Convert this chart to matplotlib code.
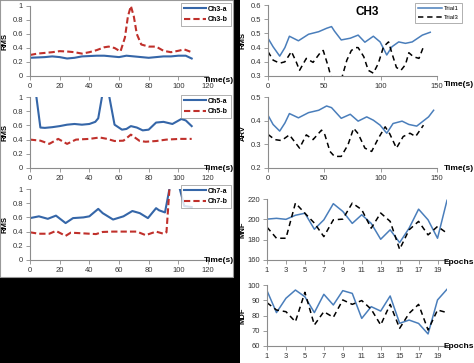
import matplotlib.pyplot as plt
from matplotlib.patches import Rectangle

W, H = 474, 363

# left column: RMS of channels 3, 5, 7 over time
ch3_a_t = [0, 5, 10, 15, 20, 25, 30, 35, 40, 45, 50, 55, 60, 65, 70, 75, 80, 85, 90, 95, 100, 105, 109]
ch3_a = [0.26, 0.265, 0.27, 0.28, 0.27, 0.25, 0.26, 0.28, 0.285, 0.29, 0.29, 0.28, 0.27, 0.29, 0.28,
         0.27, 0.26, 0.27, 0.28, 0.28, 0.29, 0.29, 0.25]
ch3_b_t = [0, 5, 10, 15, 20, 25, 30, 35, 40, 45, 50, 53, 57, 61, 64, 66, 68, 70, 72, 75, 80, 85, 90,
           95, 100, 104, 109]
ch3_b = [0.30, 0.32, 0.33, 0.34, 0.355, 0.35, 0.34, 0.32, 0.34, 0.37, 0.41, 0.42, 0.40, 0.35, 0.55,
         0.85, 1.0, 0.85, 0.6, 0.45, 0.42, 0.42, 0.36, 0.34, 0.36, 0.38, 0.34]

ch5_a_t = [0, 4, 7, 10, 15, 20, 25, 30, 35, 40, 44, 46, 48.5, 51, 53.5, 57, 62, 65, 68, 72, 76, 80,
           85, 90, 96, 102, 105, 109]
ch5_a = [1.5, 1.05, 0.57, 0.565, 0.575, 0.59, 0.61, 0.62, 0.61, 0.62, 0.65, 0.70, 1.0, 1.4, 1.0, 0.61,
         0.54, 0.55, 0.59, 0.57, 0.53, 0.54, 0.64, 0.65, 0.62, 0.69, 0.67, 0.59]
ch5_b_t = [0, 7, 13, 19, 25, 31, 40, 47, 52, 57, 63, 68, 74, 78, 85, 92, 101, 109]
ch5_b = [0.40, 0.385, 0.34, 0.41, 0.34, 0.40, 0.41, 0.43, 0.41, 0.38, 0.385, 0.47, 0.38, 0.37, 0.38,
         0.40, 0.41, 0.41]

ch7_a_t = [0, 6, 12, 17.5, 24, 29, 36, 40, 46, 49, 56, 63, 69, 74, 79.5, 85, 87, 91, 94, 97.5, 101,
           104, 109]
ch7_a = [0.59, 0.615, 0.58, 0.625, 0.52, 0.59, 0.60, 0.615, 0.72, 0.66, 0.57, 0.615, 0.69, 0.66, 0.59,
         0.73, 0.70, 0.67, 1.0, 1.4, 1.0, 0.76, 0.745]
ch7_b_t = [0, 6, 13, 17.5, 24, 27.5, 36, 44.5, 49, 56, 65, 72, 78, 85, 90, 92, 94, 96]
ch7_b = [0.39, 0.37, 0.37, 0.41, 0.34, 0.385, 0.375, 0.365, 0.395, 0.40, 0.40, 0.40, 0.35, 0.40, 0.37,
         0.39, 1.0, 1.4]

# right column: CH3 features, trial 1 vs trial 3
rms1_t = [0, 4.5, 10.4, 15, 19, 27, 36, 45, 52, 56.4, 59, 65, 73, 80, 86, 93.5, 99.5, 105.4, 110, 116,
          122, 128, 137, 144]
rms1 = [0.433, 0.403, 0.37, 0.40, 0.44, 0.424, 0.447, 0.456, 0.468, 0.474, 0.458, 0.427, 0.433, 0.444,
        0.419, 0.44, 0.42, 0.374, 0.403, 0.42, 0.415, 0.42, 0.444, 0.454]
rms3_t = [0, 4.5, 10.4, 15, 20.8, 25, 28, 34, 40, 46, 49, 53.5, 57, 63, 66, 70, 74, 78, 80, 85, 89,
          93.5, 98, 102.5, 107, 110, 114, 118, 122, 125, 129, 134, 138]
rms3 = [0.386, 0.356, 0.345, 0.35, 0.386, 0.35, 0.32, 0.362, 0.348, 0.38, 0.39, 0.333, 0.28, 0.27,
        0.30, 0.356, 0.39, 0.40, 0.40, 0.368, 0.32, 0.31, 0.345, 0.403, 0.42, 0.38, 0.33, 0.32, 0.34,
        0.382, 0.368, 0.362, 0.403]
rms_ticks = [0.30, 0.35, 0.40, 0.45, 0.50, 0.55]
rms_ticklabels = ['0.3', '0.4', '0.4', '0.5', '0.5', '0.6']

arv1_t = [0, 4.5, 10.4, 15, 19, 27, 36, 45, 52, 56.4, 65, 73, 80, 87.6, 93.5, 99.5, 105.4, 111, 119,
          125, 132, 142.5, 147]
arv1 = [0.423, 0.384, 0.356, 0.39, 0.43, 0.412, 0.434, 0.444, 0.462, 0.455, 0.41, 0.427, 0.398, 0.416,
        0.402, 0.381, 0.347, 0.388, 0.398, 0.384, 0.377, 0.416, 0.444]
arv3_t = [0, 6, 12, 19, 23.8, 28, 34, 40, 47.5, 50.5, 55, 59, 65, 71, 76, 80, 86, 92, 98, 104, 108,
          114, 120, 126, 131, 138]
arv3 = [0.342, 0.32, 0.316, 0.34, 0.31, 0.284, 0.34, 0.32, 0.36, 0.34, 0.27, 0.249, 0.249, 0.298,
        0.368, 0.345, 0.284, 0.27, 0.326, 0.374, 0.345, 0.284, 0.333, 0.347, 0.333, 0.381]

epochs = list(range(1, 21))
mnf1 = [200.2, 201, 200, 204, 206, 190.3, 199.5, 215.4, 207.8, 196, 204.5, 196, 180.4, 189.7, 177.1,
        191.3, 210, 199.5, 181.4, 218.7]
mnf3 = [192.3, 181.4, 181.4, 216, 206, 196.3, 183, 199.5, 200.2, 216, 209.5, 191.3, 206.2, 198, 170.5,
        189.7, 198, 184.7, 193, 186.4]
mdf1 = [96.3, 81.9, 91.3, 96.7, 92.3, 81.9, 93.9, 86.9, 96.3, 94.5, 78.1, 85.8, 82.9, 92.8, 74.9,
        77.0, 74.8, 67.9, 90.2, 97.2]
mdf3 = [88.4, 83.6, 82.5, 75.9, 95.2, 73.8, 82.5, 78.8, 90.2, 87.3, 89.8, 84.1, 73.8, 87.3, 71.6,
        81.4, 87.3, 70.5, 83.6, 81.9]

plt.rcParams['font.family'] = ['Liberation Sans', 'DejaVu Sans']

fig = plt.figure(figsize=(W / 100, H / 100), dpi=100, facecolor='black')
fig.add_artist(Rectangle((0, 1 - 277 / H), 233 / W, 277 / H, transform=fig.transFigure,
                         facecolor='white', edgecolor='#999999', lw=0.8, zorder=-10))
fig.add_artist(Rectangle((240 / W, 0), 234 / W, 1, transform=fig.transFigure,
                         facecolor='white', edgecolor='none', zorder=-10))

GRAY = '#8c8c8c'
BLUE_L = '#3566a8'
RED = '#c0302b'
BLUE_R = '#4a7ebb'


def make_ax(x0, x1, y0, y1):
    ax = fig.add_axes([x0 / W, 1 - y1 / H, (x1 - x0) / W, (y1 - y0) / H])
    ax.set_facecolor('none')
    for s in ['top', 'right']:
        ax.spines[s].set_visible(False)
    for s in ['left', 'bottom']:
        ax.spines[s].set_color(GRAY)
        ax.spines[s].set_linewidth(0.8)
    ax.tick_params(direction='out', length=3, width=0.6, color=GRAY, labelsize=5.5, pad=2,
                   labelcolor='#333333')
    return ax


def ftext(x, y, s, **kw):
    fig.text(x / W, 1 - y / H, s, ha='center', va='center', **kw)


def ylabel_at(ax, s, x, y0, y1):
    ax.set_ylabel(s, fontsize=5.5, fontweight='bold')
    ax.yaxis.set_label_coords(x / W, 1 - (y0 + y1) / 2 / H, transform=fig.transFigure)


# left column
left = [
    (6, 76, ch3_a_t, ch3_a, ch3_b_t, ch3_b, 'Ch3', 3, 80),
    (97, 168, ch5_a_t, ch5_a, ch5_b_t, ch5_b, 'Ch5', 95, 168),
    (189, 260, ch7_a_t, ch7_a, ch7_b_t, ch7_b, 'Ch7', 185, 260),
]
for y0, y1, ta, a, tb, b, name, ly, ty in left:
    ax = make_ax(30, 208, y0, y1)
    ax.plot(ta, a, color=BLUE_L, lw=1.5, label=name + '-a')
    ax.plot(tb, b, color=RED, lw=1.5, ls=(0, (3, 1.5)), label=name + '-b')
    ax.set_xlim(0, 120)
    ax.set_ylim(0, 1)
    ax.set_xticks([0, 20, 40, 60, 80, 100, 120])
    ax.set_yticks([0, 0.2, 0.4, 0.6, 0.8, 1])
    ax.set_yticklabels(['0', '0.2', '0.4', '0.6', '0.8', '1'])
    ylabel_at(ax, 'RMS', 9, y0, y1)
    leg = ax.legend(loc='upper left', bbox_to_anchor=(181 / W, 1 - ly / H),
                    bbox_transform=fig.transFigure,
                    prop={'weight': 'bold', 'size': 5}, frameon=True, fancybox=False,
                    edgecolor=GRAY, handlelength=3.2, handletextpad=0.3, borderpad=0.4,
                    labelspacing=0.5, borderaxespad=0)
    leg.get_frame().set_linewidth(0.6)
    ftext(219, ty, 'Time(s)', fontsize=6, fontweight='bold')

# right column
right = [
    (5, 76, rms1_t, rms1, rms3_t, rms3, 'RMS', 84, 'time'),
    (97, 168, arv1_t, arv1, arv3_t, arv3, 'ARV', 168, 'time'),
    (199, 260, epochs, mnf1, epochs, mnf3, 'MNF', 262, 'ep'),
    (285, 346, epochs, mdf1, epochs, mdf3, 'MDF', 346, 'ep'),
]
for y0, y1, t1, v1, t3, v3, name, ty, kind in right:
    if kind == 'time':
        ax = make_ax(268, 437, y0, y1)
        ax.set_xlim(0, 150)
        ax.set_xticks([0, 50, 100, 150])
    else:
        ax = make_ax(267, 447, y0, y1)
        ax.set_xlim(1, 20)
        ax.set_xticks(list(range(1, 21, 2)))
    ax.plot(t1, v1, color=BLUE_R, lw=1.1, label='Trial1')
    ax.plot(t3, v3, color='black', lw=1.1, ls=(0, (3.5, 2.5)), label='Trial3')
    if name == 'RMS':
        ax.set_ylim(0.30, 0.55)
        ax.set_yticks(rms_ticks)
        ax.set_yticklabels(rms_ticklabels)
        leg = ax.legend(loc='upper left', bbox_to_anchor=(415 / W, 1 - 3 / H),
                        bbox_transform=fig.transFigure, fontsize=4.3, frameon=True,
                        fancybox=False, edgecolor=GRAY, handlelength=4, handletextpad=0.4,
                        borderpad=0.5, labelspacing=0.6, borderaxespad=0)
        leg.get_frame().set_linewidth(0.6)
        ftext(367, 12, 'CH3', fontsize=8.5, fontweight='bold')
    elif name == 'ARV':
        ax.set_ylim(0.2, 0.5)
        ax.set_yticks([0.2, 0.3, 0.4, 0.5])
    elif name == 'MNF':
        ax.set_ylim(160, 220)
        ax.set_yticks([160, 180, 200, 220])
    else:
        ax.set_ylim(60, 100)
        ax.set_yticks([60, 70, 80, 90, 100])
    ylabel_at(ax, name, 247, y0, y1)
    ftext(459, ty, 'Time(s)' if kind == 'time' else 'Epochs', fontsize=6, fontweight='bold')

fig.savefig('out.png', dpi=100, facecolor=fig.get_facecolor())
